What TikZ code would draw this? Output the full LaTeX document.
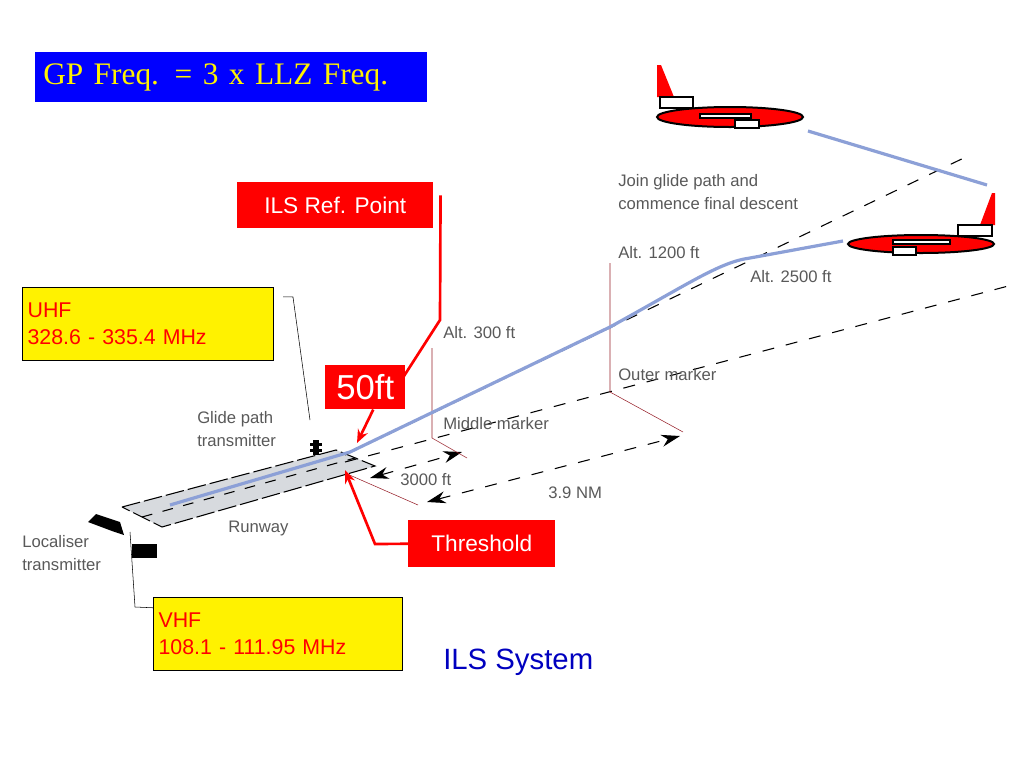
\documentclass[tikz,border=0pt]{standalone}
\usepackage{fontspec}
\setmainfont{Liberation Sans}
\newfontfamily\serfont{Liberation Serif}
\usetikzlibrary{arrows.meta}
\definecolor{pathblue}{RGB}{140,160,215}
\definecolor{markred}{RGB}{150,30,40}
\definecolor{runwaygray}{RGB}{215,218,222}
\tikzset{
  redbox/.style={fill=red,text=white,inner sep=0pt,anchor=north west},
  yelbox/.style={fill=yellow,draw=black,text=red,align=left,inner xsep=4pt,inner ysep=0pt,anchor=north west,
                 font=\fontsize{16}{20}\selectfont},
  lbl/.style={text=black!65,anchor=west,inner sep=0pt,align=left,font=\fontsize{12.5}{17}\selectfont},
  leader/.style={red,line width=2pt},
  dashedln/.style={black,thick,dash pattern=on 9pt off 9pt},
  marker/.style={markred,thin},
  gpath/.style={pathblue,line width=2.4pt}
}
\begin{document}
\begin{tikzpicture}[x=0.75pt,y=-0.75pt]
  \useasboundingbox (0,0) rectangle (1024,768);
  % title boxes
  \node[fill=blue,text=yellow,anchor=north west,text width=376*0.75pt,minimum height=50*0.75pt,inner xsep=6pt,inner ysep=0pt,
        font=\serfont\fontsize{23.5}{26}\selectfont] (freq) at (35,52) {GP Freq. = 3 x LLZ Freq.};
  \node[redbox,minimum width=196*0.75pt,minimum height=46*0.75pt,font=\fontsize{17}{20}\selectfont] (refpt) at (237,182) {ILS Ref. Point};
  \node[redbox,minimum width=147*0.75pt,minimum height=47*0.75pt,font=\fontsize{17}{20}\selectfont] (thresh) at (408,520) {Threshold};
  \node[yelbox,text width=240*0.75pt,minimum height=73*0.75pt] (uhf) at (22,287) {UHF\\328.6 - 335.4 MHz};
  \node[yelbox,text width=238*0.75pt,minimum height=73*0.75pt] (vhf) at (153,597) {VHF\\108.1 - 111.95 MHz};
  \node[text=blue!75!black,font=\fontsize{22}{26}\selectfont,anchor=west,inner sep=0pt] (title) at (443,662) {ILS System};

  % runway
  \coordinate (rw1) at (122,507); \coordinate (rw2) at (336,450);
  \coordinate (rw3) at (375,466); \coordinate (rw4) at (162,527);
  \draw[fill=runwaygray,draw=black,thick,dash pattern=on 14pt off 3pt] (rw1) -- (rw2) -- (rw3) -- (rw4) -- cycle;
  \draw[black,thick,dash pattern=on 8pt off 8pt] (142,517) -- (355,458);
  \fill[black] (313,440) rectangle (319,455);
  \fill[black] (310,443) rectangle (322,446);
  \fill[black] (310,449) rectangle (322,452);
  \fill[black] (88,522) -- (96,514) -- (120,522) -- (124,535) -- (112,531) -- cycle;
  \fill[black] (132,544) rectangle (157,558);

  % ground lines
  \draw[dashedln] (345,455) -- (970,155);
  \draw[dashedln] (345,462) -- (1012,285);
  \draw[dashedln,{Stealth[length=14pt,width=9pt]}-{Stealth[length=14pt,width=9pt]}] (370,478) -- (462,452);
  \draw[dashedln,{Stealth[length=14pt,width=9pt]}-{Stealth[length=14pt,width=9pt]}] (427,502) -- (680,436);

  % markers
  \coordinate (mm) at (432,438); \coordinate (om) at (610,392);
  \draw[marker] (432,348) -- (mm) -- (467,458);
  \draw[marker] (610,263) -- (om) -- (683,432);
  \draw[marker] (345,473) -- (418,505);

  % aircraft
  \begin{scope}[shift={(730,117)}]
    \fill[red] (-73,-52) -- (-73,-20) -- (-56,-20) -- (-69,-52) -- cycle;
    \draw[fill=white,thick] (-70,-20) rectangle (-37,-9);
    \draw[fill=red,line width=1.5pt] (0,0) ellipse (73 and 10);
    \draw[fill=white,thick] (-30,-3) rectangle (21,1);
    \draw[fill=white,thick] (5,3) rectangle (29,11);
  \end{scope}
  \begin{scope}[shift={(921,244)}]
    \fill[red] (74,-51) -- (74,-19) -- (59,-19) -- (71,-51) -- cycle;
    \draw[fill=white,thick] (37,-19) rectangle (71,-8);
    \draw[fill=red,line width=1.5pt] (0,0) ellipse (73 and 9);
    \draw[fill=white,thick] (-28,-4) rectangle (29,0);
    \draw[fill=white,thick] (-28,3) rectangle (-5,11);
  \end{scope}

  % glide path
  \coordinate (td) at (170,505);
  \draw[gpath] (td) -- (350,452) -- (610,327) .. controls (690,283) and (720,262) .. (750,258) -- (843,241);
  \draw[gpath] (808,131) -- (987,185);

  % labels
  \node[lbl] (join) at (618,192) {Join glide path and\\commence final descent};
  \node[lbl] (a1200) at (618,253) {Alt. 1200 ft};
  \node[lbl] (a2500) at (750,277) {Alt. 2500 ft};
  \node[lbl] (a300) at (443,333) {Alt. 300 ft};
  \node[lbl] (outer) at (618,375) {Outer marker};
  \node[lbl] (middle) at (443,424) {Middle marker};
  \node[lbl] (d3000) at (400,480) {3000 ft};
  \node[lbl] (dnm) at (548,493) {3.9 NM};
  \node[lbl] (gpt) at (197,429) {Glide path\\transmitter};
  \node[lbl] (rwy) at (228,528) {Runway};
  \node[lbl] (loc) at (22,553) {Localiser\\transmitter};

  % leaders
  \draw[leader] (refpt.east) ++(7,-10) -- (440,320) -- (395,390);
  \node[redbox,minimum width=80*0.75pt,minimum height=44*0.75pt,font=\fontsize{26}{28}\selectfont] (fifty) at (325,365) {50ft};
  \draw[leader,-{Stealth[length=10pt,width=8pt]}] (fifty.south) ++(8,0) -- (357,443);
  \draw[leader,-{Stealth[length=10pt,width=8pt]}] (thresh.west) -- (375,544) -- (345,470);
  \draw[black,thin] (uhf.east) ++(10,-27) -- (293,297) -- (310,420);
  \draw[black,thin] (vhf.west) ++(0,-26) -- (135,607) -- (130,532);
\end{tikzpicture}
\end{document}
